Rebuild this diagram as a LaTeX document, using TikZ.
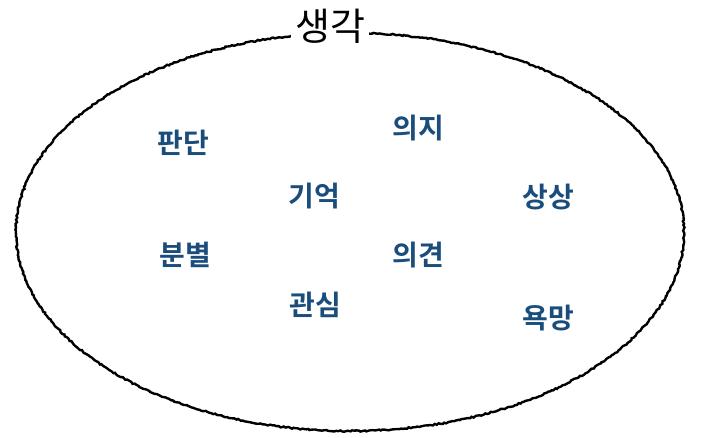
\documentclass[tikz,border=0pt]{standalone}
\usepackage{fontspec}
\newfontfamily\kr{Noto Sans CJK KR}
\newfontfamily\krb{Noto Sans CJK KR Bold}
\usetikzlibrary{decorations.pathmorphing}
\definecolor{wordblue}{HTML}{1A4D7C}
\begin{document}
\begin{tikzpicture}[x=1pt,y=-1pt,
  word/.style={font=\krb\fontsize{28}{32}\selectfont, text=wordblue}]
\useasboundingbox (0,0) rectangle (722,438);
\draw[line width=2.4pt, decorate, decoration={random steps,segment length=2pt,amplitude=0.7pt}]
  (350,232) ellipse [x radius=334, y radius=199];
\node[fill=white, inner sep=4pt, font=\kr\fontsize{38}{42}\selectfont] (title) at (330,26) {생각};
\node[word] (pandan) at (183,143) {판단};
\node[word] (uiji) at (418,128) {의지};
\node[word] (gieok) at (314,196) {기억};
\node[word] (sangsang) at (548,197) {상상};
\node[word] (bunbyeol) at (185,255) {분별};
\node[word] (uigyeon) at (418,255) {의견};
\node[word] (gwansim) at (315,305) {관심};
\node[word] (yokmang) at (548,318) {욕망};
\end{tikzpicture}
\end{document}
